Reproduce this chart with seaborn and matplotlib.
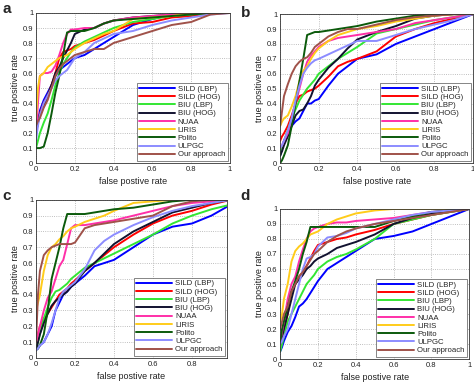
import matplotlib
matplotlib.use("Agg")
import matplotlib.pyplot as plt
import numpy as np
import pandas as pd
import seaborn as sns

sns.set_style("whitegrid")
plt.rcParams["font.family"] = ["Liberation Sans", "DejaVu Sans"]

# shared false positive rate grid (read points along each curve)
FPR = [0, .01, .02, .04, .06, .08, .1, .12, .14, .16, .18, .2,
       .25, .3, .35, .4, .5, .6, .7, .8, .9, 1.0]

METHODS = ["SILD (LBP)", "SILD (HOG)", "BIU (LBP)", "BIU (HOG)", "NUAA",
           "LIRIS", "Polito", "ULPGC", "Our approach"]
COLORS = ["#0000ff", "#ff0000", "#33e633", "#121230", "#ff2fa8",
          "#ffcc1a", "#0b5a0b", "#8c8cff", "#a0524a"]

# panel a
A_SILD_LBP = [.2, .28, .35, .42, .47, .52, .58, .62, .64, .66, .68, .70, .72, .76, .80, .84, .92, .96, .99, 1, 1, 1]
A_SILD_HOG = [.2, .27, .33, .40, .45, .52, .60, .70, .74, .75, .76, .78, .80, .82, .85, .88, .93, .94, .97, .98, 1, 1]
A_BIU_LBP = [.1, .15, .2, .27, .33, .42, .52, .6, .66, .7, .74, .77, .81, .84, .87, .9, .94, .96, .98, .99, 1, 1]
A_BIU_HOG = [.2, .27, .32, .38, .45, .52, .6, .64, .7, .75, .8, .86, .89, .9, .93, .95, .97, .98, .99, 1, 1, 1]
A_NUAA = [.2, .4, .58, .6, .6, .61, .65, .72, .8, .86, .89, .89, .9, .9, .93, .95, .97, .98, .99, 1, 1, 1]
A_LIRIS = [.3, .5, .58, .6, .64, .66, .68, .7, .71, .72, .74, .76, .8, .83, .86, .88, .96, .97, .98, 1, 1, 1]
A_POLITO = [.1, .1, .1, .11, .2, .33, .47, .58, .72, .87, .88, .88, .88, .9, .93, .95, .96, .97, .98, .99, 1, 1]
A_ULPGC = [.15, .25, .32, .4, .45, .5, .55, .58, .6, .62, .66, .7, .74, .8, .83, .86, .88, .92, .95, .97, .99, 1]
A_OURS = [.25, .28, .3, .37, .42, .5, .58, .63, .66, .68, .7, .72, .74, .76, .76, .8, .84, .88, .92, .94, .99, 1]

# panel b
B_SILD_LBP = [.05, .1, .15, .2, .25, .28, .3, .35, .4, .4, .42, .43, .52, .6, .65, .7, .73, .8, .85, .9, .95, 1]
B_SILD_HOG = [.15, .18, .2, .25, .32, .4, .45, .46, .48, .49, .5, .52, .58, .65, .68, .7, .75, .85, .9, .94, .97, 1]
B_BIU_LBP = [.05, .1, .15, .22, .3, .36, .42, .46, .5, .53, .56, .6, .65, .7, .74, .78, .87, .9, .93, .96, .98, 1]
B_BIU_HOG = [.05, .08, .12, .18, .25, .32, .35, .36, .4, .45, .52, .56, .64, .7, .77, .83, .88, .92, .97, .99, 1, 1]
B_NUAA = [.1, .12, .15, .2, .3, .4, .5, .6, .68, .72, .75, .78, .82, .84, .85, .86, .88, .9, .94, .96, .98, 1]
B_LIRIS = [.25, .28, .3, .32, .38, .45, .55, .62, .65, .7, .74, .77, .82, .86, .88, .9, .92, .95, .97, .99, 1, 1]
B_POLITO = [0, .02, .05, .12, .25, .4, .55, .7, .86, .87, .88, .88, .89, .9, .91, .92, .95, .97, .99, 1, 1, 1]
B_ULPGC = [.1, .12, .15, .22, .3, .42, .52, .6, .64, .67, .69, .7, .73, .76, .79, .82, .82, .86, .9, .93, .96, 1]
B_OURS = [.25, .35, .45, .53, .6, .65, .68, .7, .71, .74, .78, .8, .85, .88, .9, .9, .93, .96, .98, .99, 1, 1]

# panel c
C_SILD_LBP = [.05, .06, .08, .1, .15, .2, .3, .35, .4, .42, .45, .47, .52, .58, .6, .62, .7, .78, .83, .85, .9, .97]
C_SILD_HOG = [.1, .15, .2, .25, .28, .32, .36, .4, .42, .44, .47, .49, .55, .6, .65, .7, .78, .85, .9, .93, .97, 1]
C_BIU_LBP = [.05, .1, .15, .25, .32, .38, .42, .43, .45, .47, .5, .52, .57, .6, .63, .66, .72, .78, .85, .9, .94, .97]
C_BIU_HOG = [.05, .1, .15, .22, .28, .33, .36, .38, .4, .42, .45, .47, .55, .6, .66, .72, .8, .86, .92, .95, .98, 1]
C_NUAA = [.1, .15, .2, .3, .38, .42, .5, .58, .62, .72, .82, .84, .84, .85, .86, .87, .9, .93, .96, .98, .99, 1]
C_LIRIS = [.3, .35, .4, .55, .65, .7, .72, .75, .77, .8, .82, .83, .86, .88, .9, .93, .98, .99, 1, 1, 1, 1]
C_POLITO = [.05, .06, .08, .15, .3, .5, .6, .7, .82, .91, .91, .91, .91, .92, .93, .94, .95, .97, .99, 1, 1, 1]
C_ULPGC = [.05, .06, .08, .1, .15, .22, .3, .38, .42, .44, .46, .48, .56, .68, .74, .78, .84, .89, .93, .96, .98, 1]
C_OURS = [.1, .4, .55, .65, .68, .7, .71, .72, .72, .72, .72, .73, .82, .84, .85, .86, .88, .9, .96, .99, 1, 1]

# panel d
D_SILD_LBP = [.05, .08, .12, .18, .22, .28, .35, .37, .4, .44, .48, .52, .6, .64, .68, .72, .8, .82, .85, .9, .95, 1]
D_SILD_HOG = [.1, .15, .2, .3, .45, .5, .55, .58, .62, .67, .72, .76, .78, .8, .81, .83, .86, .9, .93, .96, .98, 1]
D_BIU_LBP = [.05, .1, .15, .25, .3, .35, .4, .45, .5, .53, .56, .6, .65, .68, .7, .73, .8, .9, .93, .96, .98, 1]
D_BIU_HOG = [.1, .15, .2, .3, .4, .5, .53, .56, .6, .62, .65, .67, .7, .74, .76, .78, .83, .9, .94, .97, .99, 1]
D_NUAA = [.1, .18, .25, .4, .5, .55, .65, .73, .8, .85, .87, .88, .9, .91, .91, .92, .93, .94, .96, .98, .99, 1]
D_LIRIS = [.25, .3, .4, .5, .65, .72, .75, .77, .8, .83, .84, .85, .9, .93, .95, .97, .99, 1, 1, 1, 1, 1]
D_POLITO = [.1, .2, .25, .35, .45, .52, .6, .7, .78, .88, .88, .88, .88, .88, .88, .88, .88, .92, .95, .98, .99, 1]
D_ULPGC = [.1, .12, .15, .2, .3, .4, .5, .6, .67, .68, .7, .75, .81, .82, .84, .87, .9, .93, .96, .98, .99, 1]
D_OURS = [.2, .25, .3, .35, .45, .5, .55, .58, .62, .66, .7, .72, .78, .82, .85, .87, .9, .92, .94, .96, .98, 1]

PANELS = {
    "a": [A_SILD_LBP, A_SILD_HOG, A_BIU_LBP, A_BIU_HOG, A_NUAA, A_LIRIS, A_POLITO, A_ULPGC, A_OURS],
    "b": [B_SILD_LBP, B_SILD_HOG, B_BIU_LBP, B_BIU_HOG, B_NUAA, B_LIRIS, B_POLITO, B_ULPGC, B_OURS],
    "c": [C_SILD_LBP, C_SILD_HOG, C_BIU_LBP, C_BIU_HOG, C_NUAA, C_LIRIS, C_POLITO, C_ULPGC, C_OURS],
    "d": [D_SILD_LBP, D_SILD_HOG, D_BIU_LBP, D_BIU_HOG, D_NUAA, D_LIRIS, D_POLITO, D_ULPGC, D_OURS],
}
XMAX = {"a": 1.0, "b": 1.0, "c": 0.98, "d": 1.0}

# axes rectangles in figure fractions
RECTS = {
    "a": [0.076, 0.573, 0.409, 0.393],
    "b": [0.591, 0.573, 0.407, 0.390],
    "c": [0.076, 0.063, 0.403, 0.414],
    "d": [0.591, 0.060, 0.399, 0.393],
}
LETTER_POS = {"a": (0.006, 0.995), "b": (0.508, 0.985), "c": (0.006, 0.505), "d": (0.508, 0.505)}

fig = plt.figure(figsize=(4.74, 3.82), dpi=100)

for key, series in PANELS.items():
    ax = fig.add_axes(RECTS[key])
    rows = []
    for name, tpr in zip(METHODS, series):
        for x, y in zip(FPR, tpr):
            rows.append({"fpr": x, "tpr": y, "method": name})
    df = pd.DataFrame(rows)
    sns.lineplot(data=df, x="fpr", y="tpr", hue="method", hue_order=METHODS,
                 palette=COLORS, estimator=None, sort=False, linewidth=1.4,
                 ax=ax, legend=True)
    ax.set_xlim(0, XMAX[key])
    ax.set_ylim(0, 1)
    ax.set_xticks([0, 0.2, 0.4, 0.6, 0.8, 1.0] if XMAX[key] >= 1 else [0, 0.2, 0.4, 0.6, 0.8])
    ax.set_yticks(np.arange(0, 1.01, 0.1))
    ax.xaxis.set_major_formatter(matplotlib.ticker.FormatStrFormatter("%g"))
    ax.yaxis.set_major_formatter(matplotlib.ticker.FormatStrFormatter("%g"))
    ax.tick_params(direction="in", length=2, width=0.5, labelsize=5.5, pad=2,
                   labelcolor="#222222")
    ax.grid(True, linestyle=":", linewidth=0.6, color="#aaaaaa")
    for sp in ax.spines.values():
        sp.set_color("#333333")
        sp.set_linewidth(0.6)
    ax.set_xlabel("false postive rate", fontsize=6.5, labelpad=3, color="#222222")
    ax.set_ylabel("true positive rate", fontsize=6.5, labelpad=2, color="#222222")
    ax.legend(loc="lower right", fontsize=5.6, handlelength=4.6, labelspacing=0.1,
              borderpad=0.3, handletextpad=0.4, frameon=True, fancybox=False,
              edgecolor="#555555", framealpha=1, borderaxespad=0.3)
    ax.get_legend().get_frame().set_linewidth(0.5)
    fig.text(LETTER_POS[key][0], LETTER_POS[key][1], key, fontsize=11,
             fontweight="bold", va="top", ha="left")

fig.savefig("out.png", dpi=100)
